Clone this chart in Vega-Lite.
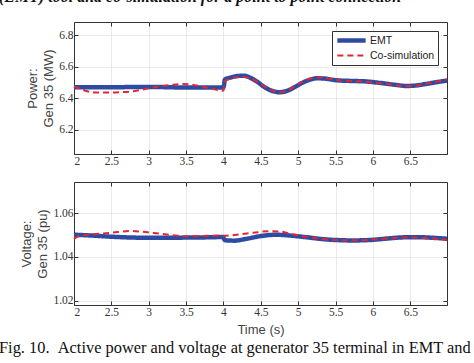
{
  "$schema": "https://vega.github.io/schema/vega-lite/v6.json",
  "padding": {"top": -12, "left": -2, "right": 0, "bottom": 0},
  "spacing": 14,
  "title": {
    "text": "Fig. 10.\u00a0\u00a0Active power and voltage at generator 35 terminal in EMT and",
    "orient": "bottom",
    "anchor": "start",
    "frame": "group",
    "dx": -75,
    "offset": 3,
    "font": "Liberation Serif",
    "fontSize": 16.4,
    "fontWeight": "normal",
    "color": "#111"
  },
  "config": {
    "view": {"stroke": "#333", "strokeWidth": 1},
    "axis": {
      "domainColor": "#333",
      "tickColor": "#333",
      "tickSize": -4,
      "labelPadding": 5,
      "gridColor": "#e4e4e4",
      "gridWidth": 0.8,
      "labelFont": "Liberation Serif",
      "labelFontSize": 11.5,
      "labelColor": "#333",
      "titleFont": "Liberation Sans",
      "titleFontWeight": "normal",
      "titleColor": "#444",
      "titleFontSize": 13,
      "titleLineHeight": 16
    },
    "legend": {
      "orient": "top-right",
      "offset": 9,
      "fillColor": "white",
      "strokeColor": "#333",
      "padding": 3,
      "labelFont": "Liberation Sans",
      "labelFontSize": 10.5,
      "labelColor": "#222",
      "labelOffset": 2,
      "symbolType": "stroke",
      "symbolSize": 800,
      "clipHeight": 13,
      "rowPadding": 2
    }
  },
  "datasets": {
    "power": [
      {"t": 2.0, "v": 6.47, "s": "EMT"},
      {"t": 2.5, "v": 6.47, "s": "EMT"},
      {"t": 3.0, "v": 6.472, "s": "EMT"},
      {"t": 3.5, "v": 6.468, "s": "EMT"},
      {"t": 3.99, "v": 6.468, "s": "EMT"},
      {"t": 4.0, "v": 6.47, "s": "EMT"},
      {"t": 4.02, "v": 6.52, "s": "EMT"},
      {"t": 4.1, "v": 6.532, "s": "EMT"},
      {"t": 4.2, "v": 6.542, "s": "EMT"},
      {"t": 4.28, "v": 6.543, "s": "EMT"},
      {"t": 4.35, "v": 6.532, "s": "EMT"},
      {"t": 4.45, "v": 6.505, "s": "EMT"},
      {"t": 4.55, "v": 6.47, "s": "EMT"},
      {"t": 4.65, "v": 6.447, "s": "EMT"},
      {"t": 4.75, "v": 6.438, "s": "EMT"},
      {"t": 4.85, "v": 6.447, "s": "EMT"},
      {"t": 4.95, "v": 6.47, "s": "EMT"},
      {"t": 5.05, "v": 6.497, "s": "EMT"},
      {"t": 5.15, "v": 6.517, "s": "EMT"},
      {"t": 5.25, "v": 6.527, "s": "EMT"},
      {"t": 5.35, "v": 6.525, "s": "EMT"},
      {"t": 5.5, "v": 6.515, "s": "EMT"},
      {"t": 5.7, "v": 6.51, "s": "EMT"},
      {"t": 5.9, "v": 6.507, "s": "EMT"},
      {"t": 6.1, "v": 6.497, "s": "EMT"},
      {"t": 6.3, "v": 6.485, "s": "EMT"},
      {"t": 6.45, "v": 6.478, "s": "EMT"},
      {"t": 6.55, "v": 6.48, "s": "EMT"},
      {"t": 6.7, "v": 6.49, "s": "EMT"},
      {"t": 6.85, "v": 6.502, "s": "EMT"},
      {"t": 6.99, "v": 6.512, "s": "EMT"},
      {"t": 2.0, "v": 6.475, "s": "Co-simulation"},
      {"t": 2.08, "v": 6.46, "s": "Co-simulation"},
      {"t": 2.15, "v": 6.448, "s": "Co-simulation"},
      {"t": 2.3, "v": 6.436, "s": "Co-simulation"},
      {"t": 2.45, "v": 6.436, "s": "Co-simulation"},
      {"t": 2.6, "v": 6.438, "s": "Co-simulation"},
      {"t": 2.8, "v": 6.445, "s": "Co-simulation"},
      {"t": 2.95, "v": 6.458, "s": "Co-simulation"},
      {"t": 3.1, "v": 6.472, "s": "Co-simulation"},
      {"t": 3.3, "v": 6.485, "s": "Co-simulation"},
      {"t": 3.45, "v": 6.49, "s": "Co-simulation"},
      {"t": 3.55, "v": 6.488, "s": "Co-simulation"},
      {"t": 3.7, "v": 6.475, "s": "Co-simulation"},
      {"t": 3.85, "v": 6.46, "s": "Co-simulation"},
      {"t": 3.98, "v": 6.447, "s": "Co-simulation"},
      {"t": 4.0, "v": 6.45, "s": "Co-simulation"},
      {"t": 4.02, "v": 6.51, "s": "Co-simulation"},
      {"t": 4.1, "v": 6.525, "s": "Co-simulation"},
      {"t": 4.25, "v": 6.535, "s": "Co-simulation"},
      {"t": 4.35, "v": 6.528, "s": "Co-simulation"},
      {"t": 4.45, "v": 6.505, "s": "Co-simulation"},
      {"t": 4.55, "v": 6.475, "s": "Co-simulation"},
      {"t": 4.65, "v": 6.45, "s": "Co-simulation"},
      {"t": 4.75, "v": 6.438, "s": "Co-simulation"},
      {"t": 4.85, "v": 6.448, "s": "Co-simulation"},
      {"t": 4.95, "v": 6.475, "s": "Co-simulation"},
      {"t": 5.05, "v": 6.503, "s": "Co-simulation"},
      {"t": 5.15, "v": 6.522, "s": "Co-simulation"},
      {"t": 5.3, "v": 6.532, "s": "Co-simulation"},
      {"t": 5.45, "v": 6.522, "s": "Co-simulation"},
      {"t": 5.6, "v": 6.512, "s": "Co-simulation"},
      {"t": 5.8, "v": 6.508, "s": "Co-simulation"},
      {"t": 6.0, "v": 6.5, "s": "Co-simulation"},
      {"t": 6.2, "v": 6.49, "s": "Co-simulation"},
      {"t": 6.4, "v": 6.478, "s": "Co-simulation"},
      {"t": 6.55, "v": 6.478, "s": "Co-simulation"},
      {"t": 6.7, "v": 6.492, "s": "Co-simulation"},
      {"t": 6.85, "v": 6.505, "s": "Co-simulation"},
      {"t": 6.99, "v": 6.52, "s": "Co-simulation"}
    ],
    "voltage": [
      {"t": 2.0, "v": 1.0501, "s": "EMT"},
      {"t": 2.2, "v": 1.0498, "s": "EMT"},
      {"t": 2.5, "v": 1.0492, "s": "EMT"},
      {"t": 2.8, "v": 1.0488, "s": "EMT"},
      {"t": 3.0, "v": 1.0487, "s": "EMT"},
      {"t": 3.5, "v": 1.0488, "s": "EMT"},
      {"t": 3.9, "v": 1.049, "s": "EMT"},
      {"t": 3.99, "v": 1.0491, "s": "EMT"},
      {"t": 4.02, "v": 1.0476, "s": "EMT"},
      {"t": 4.15, "v": 1.0474, "s": "EMT"},
      {"t": 4.3, "v": 1.0482, "s": "EMT"},
      {"t": 4.5, "v": 1.0495, "s": "EMT"},
      {"t": 4.7, "v": 1.0501, "s": "EMT"},
      {"t": 4.9, "v": 1.0497, "s": "EMT"},
      {"t": 5.1, "v": 1.049, "s": "EMT"},
      {"t": 5.3, "v": 1.0482, "s": "EMT"},
      {"t": 5.5, "v": 1.0477, "s": "EMT"},
      {"t": 5.75, "v": 1.0475, "s": "EMT"},
      {"t": 6.0, "v": 1.0478, "s": "EMT"},
      {"t": 6.2, "v": 1.0484, "s": "EMT"},
      {"t": 6.4, "v": 1.0489, "s": "EMT"},
      {"t": 6.6, "v": 1.049, "s": "EMT"},
      {"t": 6.8, "v": 1.0487, "s": "EMT"},
      {"t": 6.99, "v": 1.0483, "s": "EMT"},
      {"t": 2.0, "v": 1.0482, "s": "Co-simulation"},
      {"t": 2.05, "v": 1.0493, "s": "Co-simulation"},
      {"t": 2.15, "v": 1.05, "s": "Co-simulation"},
      {"t": 2.3, "v": 1.0504, "s": "Co-simulation"},
      {"t": 2.5, "v": 1.051, "s": "Co-simulation"},
      {"t": 2.75, "v": 1.0518, "s": "Co-simulation"},
      {"t": 2.9, "v": 1.0515, "s": "Co-simulation"},
      {"t": 3.1, "v": 1.0508, "s": "Co-simulation"},
      {"t": 3.3, "v": 1.05, "s": "Co-simulation"},
      {"t": 3.5, "v": 1.0494, "s": "Co-simulation"},
      {"t": 3.7, "v": 1.0495, "s": "Co-simulation"},
      {"t": 3.9, "v": 1.0497, "s": "Co-simulation"},
      {"t": 4.0, "v": 1.0496, "s": "Co-simulation"},
      {"t": 4.2, "v": 1.0502, "s": "Co-simulation"},
      {"t": 4.4, "v": 1.051, "s": "Co-simulation"},
      {"t": 4.6, "v": 1.0517, "s": "Co-simulation"},
      {"t": 4.75, "v": 1.0516, "s": "Co-simulation"},
      {"t": 4.9, "v": 1.0505, "s": "Co-simulation"},
      {"t": 5.0, "v": 1.0497, "s": "Co-simulation"},
      {"t": 5.2, "v": 1.0487, "s": "Co-simulation"},
      {"t": 5.4, "v": 1.0479, "s": "Co-simulation"},
      {"t": 5.6, "v": 1.0476, "s": "Co-simulation"},
      {"t": 5.8, "v": 1.0476, "s": "Co-simulation"},
      {"t": 6.0, "v": 1.0479, "s": "Co-simulation"},
      {"t": 6.2, "v": 1.0484, "s": "Co-simulation"},
      {"t": 6.4, "v": 1.0488, "s": "Co-simulation"},
      {"t": 6.6, "v": 1.0488, "s": "Co-simulation"},
      {"t": 6.8, "v": 1.0484, "s": "Co-simulation"},
      {"t": 6.99, "v": 1.0477, "s": "Co-simulation"}
    ]
  },
  "vconcat": [
    {
      "width": 373,
      "height": 132,
      "title": {
        "text": "(EMT) tool and co-simulation for a point to point connection",
        "anchor": "start",
        "frame": "group",
        "dx": -75,
        "offset": 17,
        "font": "Liberation Serif",
        "fontSize": 16,
        "fontStyle": "italic",
        "fontWeight": "bold",
        "color": "#111"
      },
      "data": {"name": "power"},
      "layer": [
        {
          "mark": {"type": "line", "interpolate": "monotone"},
          "encoding": {
            "x": {
              "field": "t", "type": "quantitative",
              "scale": {"domain": [2, 6.99], "nice": false, "zero": false},
              "axis": {"values": [2, 2.5, 3, 3.5, 4, 4.5, 5, 5.5, 6, 6.5], "format": "~g", "title": null, "labelFont": "Liberation Serif"}
            },
            "y": {
              "field": "v", "type": "quantitative",
              "scale": {"domain": [6.045, 6.885], "nice": false, "zero": false},
              "axis": {"values": [6.2, 6.4, 6.6, 6.8], "format": "~g", "title": ["Power:", "Gen 35 (MW)"], "titlePadding": 3, "labelFont": "Liberation Serif"}
            },
            "color": {
              "field": "s", "type": "nominal", "sort": ["EMT", "Co-simulation"],
              "scale": {"domain": ["EMT", "Co-simulation"], "range": ["#2d4ba3", "#e3262f"]},
              "legend": {"title": null}
            },
            "strokeDash": {
              "field": "s", "type": "nominal", "sort": ["EMT", "Co-simulation"],
              "scale": {"domain": ["EMT", "Co-simulation"], "range": [[1, 0], [6, 4]]},
              "legend": {"title": null}
            },
            "strokeWidth": {
              "field": "s", "type": "nominal", "sort": ["EMT", "Co-simulation"],
              "scale": {"domain": ["EMT", "Co-simulation"], "range": [4.5, 2]},
              "legend": {"title": null}
            }
          }
        },
        {
          "mark": {"type": "line", "opacity": 0},
          "encoding": {
            "x": {
              "field": "t", "type": "quantitative",
              "axis": {"orient": "top", "values": [2, 2.5, 3, 3.5, 4, 4.5, 5, 5.5, 6, 6.5], "labels": false, "grid": false, "domain": false, "title": null}
            },
            "y": {
              "field": "v", "type": "quantitative",
              "axis": {"orient": "right", "values": [6.2, 6.4, 6.6, 6.8], "labels": false, "grid": false, "domain": false, "title": null}
            }
          }
        }
      ],
      "resolve": {"axis": {"x": "independent", "y": "independent"}}
    },
    {
      "width": 373,
      "height": 123,
      "data": {"name": "voltage"},
      "layer": [
        {
          "mark": {"type": "line", "interpolate": "monotone"},
          "encoding": {
            "x": {
              "field": "t", "type": "quantitative",
              "scale": {"domain": [2, 6.99], "nice": false, "zero": false},
              "axis": {"values": [2, 2.5, 3, 3.5, 4, 4.5, 5, 5.5, 6, 6.5], "format": "~g", "title": "Time (s)", "titlePadding": 6, "labelFont": "Liberation Serif"}
            },
            "y": {
              "field": "v", "type": "quantitative",
              "scale": {"domain": [1.018, 1.0742], "nice": false, "zero": false},
              "axis": {"values": [1.02, 1.04, 1.06], "format": "~g", "title": ["Voltage:", "Gen 35 (pu)"], "titlePadding": 3, "labelFont": "Liberation Serif"}
            },
            "color": {
              "field": "s", "type": "nominal",
              "scale": {"domain": ["EMT", "Co-simulation"], "range": ["#2d4ba3", "#e3262f"]},
              "legend": null
            },
            "strokeDash": {
              "field": "s", "type": "nominal",
              "scale": {"domain": ["EMT", "Co-simulation"], "range": [[1, 0], [6, 4]]},
              "legend": null
            },
            "strokeWidth": {
              "field": "s", "type": "nominal",
              "scale": {"domain": ["EMT", "Co-simulation"], "range": [4.5, 2]},
              "legend": null
            }
          }
        },
        {
          "mark": {"type": "line", "opacity": 0},
          "encoding": {
            "x": {
              "field": "t", "type": "quantitative",
              "axis": {"orient": "top", "values": [2, 2.5, 3, 3.5, 4, 4.5, 5, 5.5, 6, 6.5], "labels": false, "grid": false, "domain": false, "title": null}
            },
            "y": {
              "field": "v", "type": "quantitative",
              "axis": {"orient": "right", "values": [1.02, 1.04, 1.06], "labels": false, "grid": false, "domain": false, "title": null}
            }
          }
        }
      ],
      "resolve": {"axis": {"x": "independent", "y": "independent"}}
    }
  ],
  "resolve": {
    "scale": {"y": "independent"},
    "legend": {"color": "independent", "strokeDash": "independent", "strokeWidth": "independent"}
  }
}
